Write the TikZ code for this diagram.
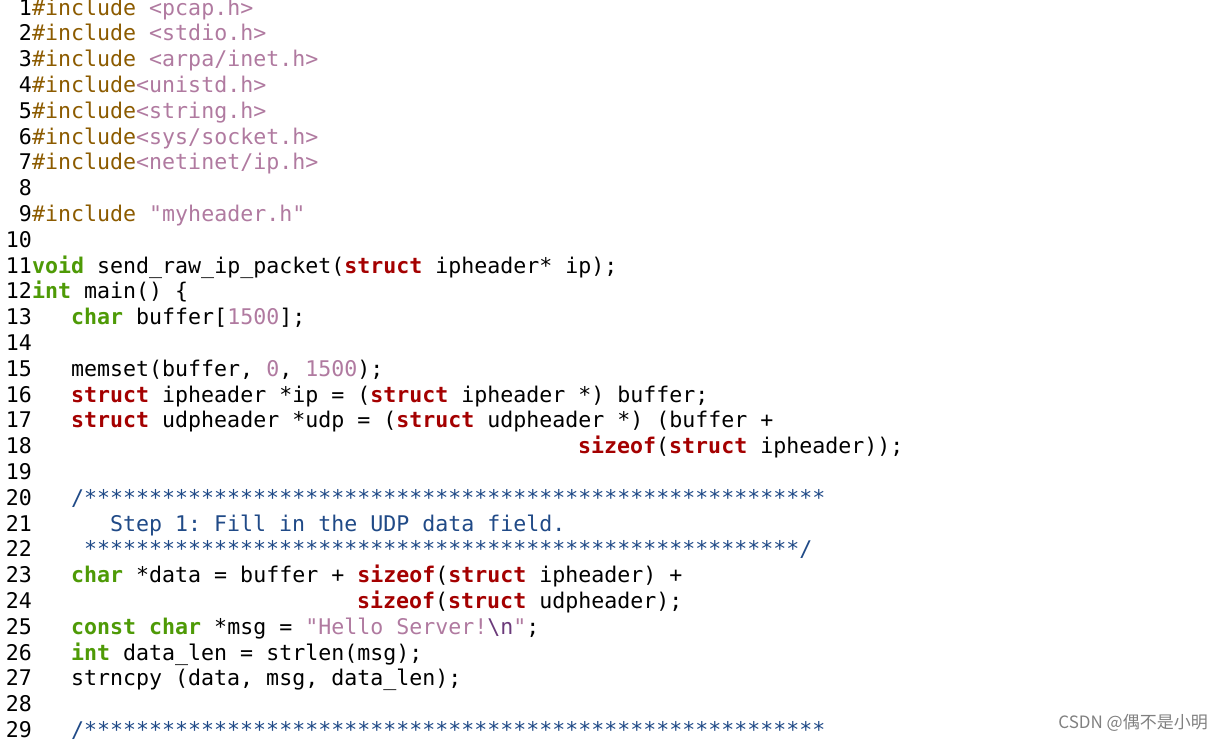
\documentclass[tikz,border=0pt]{standalone}
\usepackage{fontspec}
\setmonofont{DejaVu Sans Mono}
\newfontfamily\cjk{Noto Sans CJK SC}
\definecolor{pp}{HTML}{8C5B00}
\definecolor{inc}{HTML}{B07AA0}
\definecolor{kg}{HTML}{4E9A06}
\definecolor{kr}{HTML}{A40000}
\definecolor{cm}{HTML}{204A87}
\definecolor{esc}{HTML}{6B3A7A}
\newcommand{\kwG}[1]{\textcolor{kg}{\textbf{#1}}}
\newcommand{\kwR}[1]{\textcolor{kr}{\textbf{#1}}}
\newcommand{\ppC}[1]{\textcolor{pp}{#1}}
\newcommand{\inC}[1]{\textcolor{inc}{#1}}
\newcommand{\cmC}[1]{\textcolor{cm}{#1}}
\begin{document}
\begin{tikzpicture}[x=1pt,y=-1pt,
  code/.style={anchor=base west,inner sep=0pt,font=\ttfamily\fontsize{21.6}{22}\selectfont},
  num/.style={anchor=base east,inner sep=0pt,font=\ttfamily\fontsize{21.6}{22}\selectfont}]
\useasboundingbox (0,0) rectangle (1222,742);
\foreach \n in {1,...,29}{\node[num] (n\n) at (32,{15+(\n-1)*25.8}) {\n};}
\newcommand{\Ln}[3]{\node[code] (l#1c#2) at ({32+13*#2},{15+(#1-1)*25.8}) {#3};}
\Ln{1}{0}{\ppC{\#include} \inC{<pcap.h>}}
\Ln{2}{0}{\ppC{\#include} \inC{<stdio.h>}}
\Ln{3}{0}{\ppC{\#include} \inC{<arpa/inet.h>}}
\Ln{4}{0}{\ppC{\#include}\inC{<unistd.h>}}
\Ln{5}{0}{\ppC{\#include}\inC{<string.h>}}
\Ln{6}{0}{\ppC{\#include}\inC{<sys/socket.h>}}
\Ln{7}{0}{\ppC{\#include}\inC{<netinet/ip.h>}}
\Ln{9}{0}{\ppC{\#include} \inC{"myheader.h"}}
\Ln{11}{0}{\kwG{void} send\_raw\_ip\_packet(\kwR{struct} ipheader* ip);}
\Ln{12}{0}{\kwG{int} main() \{}
\Ln{13}{3}{\kwG{char} buffer[\inC{1500}];}
\Ln{15}{3}{memset(buffer, \inC{0}, \inC{1500});}
\Ln{16}{3}{\kwR{struct} ipheader *ip = (\kwR{struct} ipheader *) buffer;}
\Ln{17}{3}{\kwR{struct} udpheader *udp = (\kwR{struct} udpheader *) (buffer +}
\Ln{18}{42}{\kwR{sizeof}(\kwR{struct} ipheader));}
\Ln{20}{3}{\cmC{/*********************************************************}}
\Ln{21}{6}{\cmC{Step 1: Fill in the UDP data field.}}
\Ln{22}{4}{\cmC{*******************************************************/}}
\Ln{23}{3}{\kwG{char} *data = buffer + \kwR{sizeof}(\kwR{struct} ipheader) +}
\Ln{24}{25}{\kwR{sizeof}(\kwR{struct} udpheader);}
\Ln{25}{3}{\kwG{const} \kwG{char} *msg = \inC{"Hello Server!}\textcolor{esc}{\textbackslash n}\inC{"};}
\Ln{26}{3}{\kwG{int} data\_len = strlen(msg);}
\Ln{27}{3}{strncpy (data, msg, data\_len);}
\Ln{29}{3}{\cmC{/*********************************************************}}
\node[anchor=base east,inner sep=0pt,text=gray,font=\cjk\fontsize{17}{18}\selectfont] (wm) at (1208,728) {CSDN @偶不是小明};
\end{tikzpicture}
\end{document}
